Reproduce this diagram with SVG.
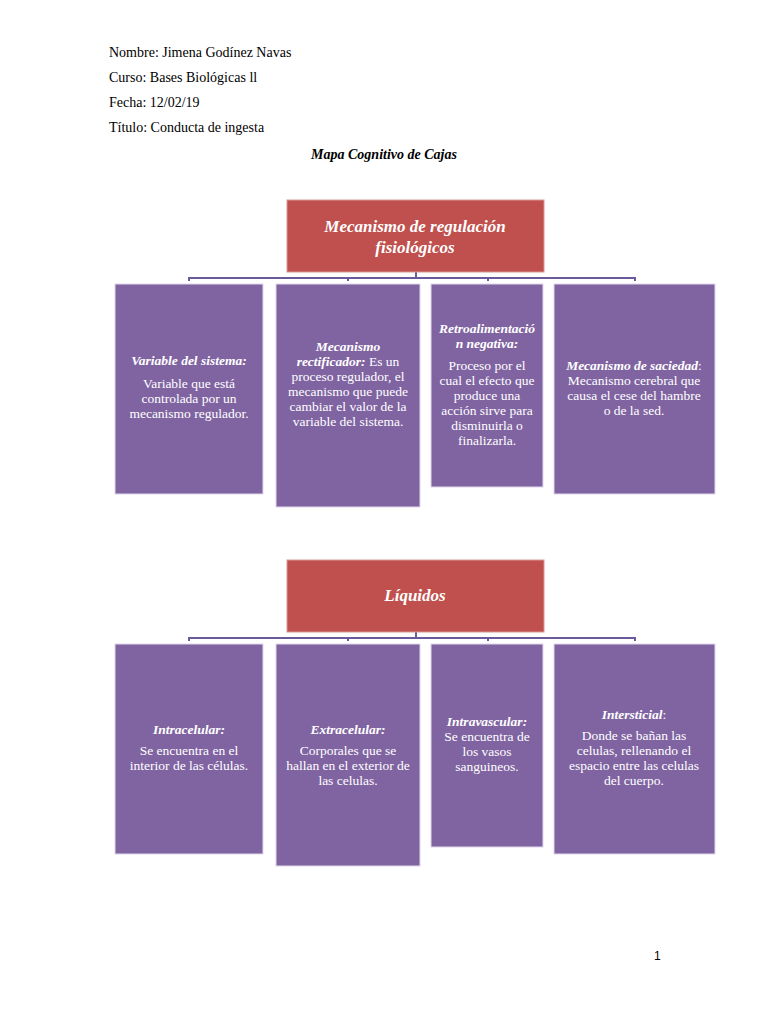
<svg xmlns="http://www.w3.org/2000/svg" width="768" height="1024" viewBox="0 0 768 1024">
<style>
.h{font-family:"Liberation Serif",serif;font-size:14px;fill:#000}
.r{fill:#c0504d;stroke:#d99694;stroke-width:1}
.p{fill:#8064a2;stroke:#e0d8ec;stroke-width:1}
.rt{font-family:"Liberation Serif",serif;font-size:17px;font-style:italic;font-weight:bold;fill:#fff;text-anchor:middle}
.t{font-family:"Liberation Serif",serif;font-size:13.5px;fill:#fff;text-anchor:middle}
.b{font-style:italic;font-weight:bold}
.c{fill:none;stroke:#6a5a9a;stroke-width:2}
</style>
<rect width="768" height="1024" fill="#fff"/>
<text class="h" x="109" y="57">Nombre: Jimena Godínez Navas</text>
<text class="h" x="109" y="82">Curso: Bases Biológicas ll</text>
<text class="h" x="109" y="107">Fecha: 12/02/19</text>
<text class="h" x="109" y="132">Título: Conducta de ingesta</text>
<text class="h" x="384" y="159" text-anchor="middle" font-style="italic" font-weight="bold" font-size="15">Mapa Cognitivo de Cajas</text>
<g id="connectors">
<path class="c" d="M189,281 V278 H635 V281 M348,278 V281 M488,278 V281 M416,272 V278"/>
<path class="c" d="M189,641 V638 H635 V641 M348,638 V641 M488,638 V641 M416,632 V638"/>
</g>
<g id="n1"><rect class="r" x="287" y="200" width="257" height="72"/>
<text class="rt" x="415" y="232">Mecanismo de regulación</text><text class="rt" x="415" y="253">fisiológicos</text></g>
<g id="n2"><rect class="p" x="115" y="284" width="148" height="210"/>
<text class="t" x="189" y="365"><tspan class="b">Variable del sistema:</tspan></text>
<text class="t" x="189" y="388">Variable que está</text><text class="t" x="189" y="403">controlada por un</text><text class="t" x="189" y="418">mecanismo regulador.</text></g>
<g id="n3"><rect class="p" x="276" y="284" width="144" height="223"/>
<text class="t" x="348" y="351"><tspan class="b">Mecanismo</tspan></text>
<text class="t" x="348" y="366"><tspan class="b">rectificador:</tspan> Es un</text>
<text class="t" x="348" y="381">proceso regulador, el</text><text class="t" x="348" y="396">mecanismo que puede</text><text class="t" x="348" y="411">cambiar el valor de la</text><text class="t" x="348" y="426">variable del sistema.</text></g>
<g id="n4"><rect class="p" x="431" y="284" width="112" height="203"/>
<text class="t" x="487" y="333"><tspan class="b">Retroalimentació</tspan></text>
<text class="t" x="487" y="348"><tspan class="b">n negativa:</tspan></text>
<text class="t" x="487" y="370">Proceso por el</text><text class="t" x="487" y="385">cual el efecto que</text><text class="t" x="487" y="400">produce una</text><text class="t" x="487" y="415">acción sirve para</text><text class="t" x="487" y="430">disminuirla o</text><text class="t" x="487" y="445">finalizarla.</text></g>
<g id="n5"><rect class="p" x="554" y="284" width="161" height="210"/>
<text class="t" x="634" y="370"><tspan class="b">Mecanismo de saciedad</tspan>:</text>
<text class="t" x="634" y="385">Mecanismo cerebral que</text><text class="t" x="634" y="400">causa el cese del hambre</text><text class="t" x="634" y="415">o de la sed.</text></g>
<g id="n6"><rect class="r" x="287" y="560" width="257" height="72"/>
<text class="rt" x="415" y="601">Líquidos</text></g>
<g id="n7"><rect class="p" x="115" y="644" width="148" height="210"/>
<text class="t" x="189" y="734"><tspan class="b">Intracelular:</tspan></text>
<text class="t" x="189" y="755">Se encuentra en el</text><text class="t" x="189" y="770">interior de las células.</text></g>
<g id="n8"><rect class="p" x="276" y="644" width="144" height="222"/>
<text class="t" x="348" y="734"><tspan class="b">Extracelular:</tspan></text>
<text class="t" x="348" y="755">Corporales que se</text><text class="t" x="348" y="770">hallan en el exterior de</text><text class="t" x="348" y="785">las celulas.</text></g>
<g id="n9"><rect class="p" x="431" y="644" width="112" height="203"/>
<text class="t" x="487" y="726"><tspan class="b">Intravascular:</tspan></text>
<text class="t" x="487" y="741">Se encuentra de</text><text class="t" x="487" y="756">los vasos</text><text class="t" x="487" y="771">sanguineos.</text></g>
<g id="n10"><rect class="p" x="554" y="644" width="161" height="210"/>
<text class="t" x="634" y="719"><tspan class="b">Intersticial</tspan>:</text>
<text class="t" x="634" y="740">Donde se bañan las</text><text class="t" x="634" y="755">celulas, rellenando el</text><text class="t" x="634" y="770">espacio entre las celulas</text><text class="t" x="634" y="785">del cuerpo.</text></g>
<text x="654" y="960" font-family="Liberation Sans,sans-serif" font-size="12" fill="#000">1</text>
</svg>
